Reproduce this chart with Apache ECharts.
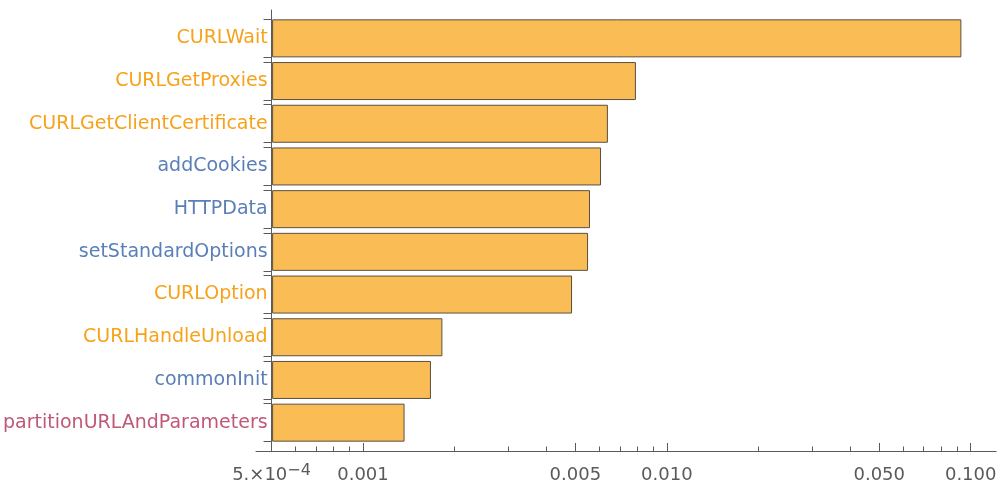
<!DOCTYPE html>
<html>
<head>
<meta charset="utf-8">
<script src="https://cdn.jsdelivr.net/npm/echarts@6/dist/echarts.min.js"></script>
<style>
  html, body { margin: 0; padding: 0; background: #fff; }
  #chart { width: 1002px; height: 488px; }
</style>
</head>
<body>
<div id="chart"></div>
<script>
// timings per function, seconds (log scale)
const names = ['CURLWait', 'CURLGetProxies', 'CURLGetClientCertificate', 'addCookies', 'HTTPData',
  'setStandardOptions', 'CURLOption', 'CURLHandleUnload', 'commonInit', 'partitionURLAndParameters'];
const values = [0.0913, 0.00781, 0.00632, 0.00600, 0.00552, 0.00544, 0.00482, 0.00181, 0.00166, 0.00136];
const nameColors = ['#f7a21b', '#f7a21b', '#f7a21b', '#5a7fb8', '#5a7fb8',
  '#5a7fb8', '#f7a21b', '#f7a21b', '#5a7fb8', '#c05878'];

const xMajor = [0.0005, 0.001, 0.005, 0.01, 0.05, 0.1];
const xMajorLabels = ['{m|5.×10}{s|−4}', '{m|0.001}{e| }', '{m|0.005}{e| }', '{m|0.010}{e| }',
  '{m|0.050}{e| }', '{m|0.100}{e| }'];
const xMinor = [0.0006, 0.0007, 0.0008, 0.0009, 0.002, 0.003, 0.004, 0.006, 0.007, 0.008, 0.009,
  0.02, 0.03, 0.04, 0.06, 0.07, 0.08, 0.09];

// bars start at 5e-4, so plot log10(v / 5e-4)
const base = 0.0005;
const lg = v => Math.log10(v / base);
const xMin = -0.0511, xMax = 2.385;

// bar edges on the y axis, in band units (band centre = i + 0.5)
const half = 0.445;
const yEdges = [];
names.forEach((n, i) => { yEdges.push(i + 0.5 - half, i + 0.5 + half); });

const axisGray = '#5a5a5a';
const chart = echarts.init(document.getElementById('chart'));

chart.setOption({
  animation: false,
  grid: [
    { left: 271.6, right: 3, top: 17, height: 427 },
    { left: 256, right: 3, top: 10, bottom: 37 }
  ],
  xAxis: [
    { gridIndex: 0, type: 'value', min: 0, max: xMax, show: false },
    {
      gridIndex: 1, type: 'value', position: 'bottom', min: xMin, max: xMax,
      axisLine: { show: true, onZero: false, lineStyle: { color: axisGray, width: 1 } },
      splitLine: { show: false },
      axisTick: { show: true, inside: true, length: 8, customValues: xMajor.map(lg), lineStyle: { color: axisGray } },
      axisLabel: {
        customValues: xMajor.map(lg),
        margin: 12,
        color: axisGray,
        fontFamily: 'DejaVu Sans',
        fontSize: 18,
        formatter: function (u) {
          let best = 0;
          xMajor.forEach((t, i) => { if (Math.abs(lg(t) - u) < Math.abs(lg(xMajor[best]) - u)) best = i; });
          return xMajorLabels[best];
        },
        rich: {
          m: { fontFamily: 'DejaVu Sans', fontSize: 18, color: axisGray },
          s: { fontFamily: 'DejaVu Sans', fontSize: 16, color: axisGray, padding: [0, 0, 8, 0] },
          e: { fontFamily: 'DejaVu Sans', fontSize: 16, width: 0, padding: [0, 0, 8, 0] }
        }
      }
    },
    {
      gridIndex: 1, type: 'value', position: 'bottom', min: xMin, max: xMax,
      axisLine: { show: false, onZero: false },
      splitLine: { show: false },
      axisLabel: { show: false },
      axisTick: { show: true, inside: true, length: 4.5, customValues: xMinor.map(lg), lineStyle: { color: axisGray } }
    }
  ],
  yAxis: [
    {
      gridIndex: 0, type: 'category', inverse: true,
      data: names.map((n, i) => ({ value: n, textStyle: { color: nameColors[i] } })),
      axisLine: { show: false },
      axisTick: { show: false },
      axisLabel: { margin: 4.5, fontFamily: 'DejaVu Sans', fontSize: 19 }
    },
    {
      gridIndex: 1, type: 'value', inverse: true, min: -0.1639, max: 10.164,
      axisLine: { show: true, onZero: true, lineStyle: { color: axisGray, width: 1 } },
      splitLine: { show: false },
      axisLabel: { show: false },
      axisTick: { show: true, length: 8, customValues: yEdges, lineStyle: { color: axisGray } }
    }
  ],
  series: [{
    type: 'bar',
    xAxisIndex: 0,
    yAxisIndex: 0,
    barWidth: 38,
    silent: true,
    data: values.map(lg),
    itemStyle: { color: '#fabd55', borderColor: '#5a5040', borderWidth: 1 }
  }]
});
</script>
</body>
</html>
